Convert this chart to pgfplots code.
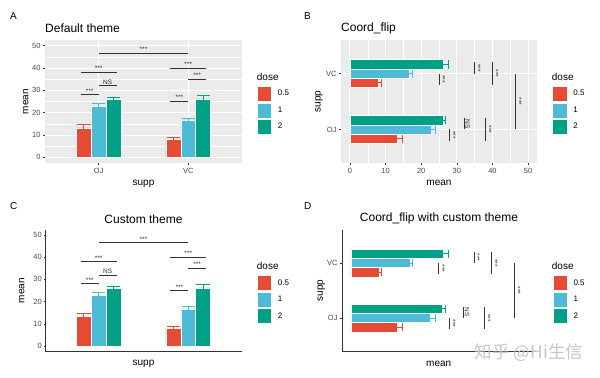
\documentclass[border=0pt]{standalone}
\usepackage{fontspec}
\setmainfont{Liberation Sans}
\newfontfamily\cjk{Noto Sans CJK SC}
\usepackage{pgfplots}
\pgfplotsset{compat=1.18}
\definecolor{npgred}{HTML}{E64B35}
\definecolor{npgblue}{HTML}{4DBBD5}
\definecolor{npggreen}{HTML}{00A087}
\definecolor{ggbg}{HTML}{EBEBEB}
\definecolor{gg30}{HTML}{4D4D4D}
\definecolor{gg20}{HTML}{333333}
\newcommand{\fs}[1]{\fontsize{#1bp}{#1bp}\selectfont}
\tikzset{brk/.style={gg20, line width=0.8bp}}

\pgfplotsset{
  base/.style={
    scale only axis, anchor=south west,
    /pgf/number format/assume math mode=true,
    tick label style={font=\fs{7.5}, text=gg30},
    xticklabel style={inner sep=2.5bp},
    yticklabel style={inner sep=1.8bp},
    label style={font=\fs{10}, text=black},
    tick align=outside, major tick length=2.5bp, minor tick length=0pt,
    tick style={gg20, line width=0.5bp},
    legend style={draw=none, fill=none, inner sep=0pt, row sep=1bp, column sep=6bp,
      font=\fs{8}, nodes={inner sep=0pt}, anchor=north west},
    legend cell align=left,
    clip=false,
  },
  mylegend/.style={legend image code/.code={\fill[##1] (0bp,-7.5bp) rectangle (14.5bp,7.5bp);}},
  ggbox/.style={axis background/.style={fill=ggbg}, axis line style={draw=none},
    major grid style={white, line width=0.9bp}, minor grid style={white, line width=0.45bp},
    xtick pos=left, ytick pos=left},
  classic/.style={axis lines=left, axis line style={-, gg20, line width=0.8bp}},
  eby/.style 2 args={error bars/y dir=both, error bars/y explicit,
    error bars/error mark=|,
    error bars/error bar style={#1, line width=1bp},
    error bars/error mark options={#1, line width=1bp, mark size=#2}},
  ebx/.style 2 args={error bars/x dir=both, error bars/x explicit,
    error bars/error mark=|,
    error bars/error bar style={#1, line width=1bp},
    error bars/error mark options={#1, line width=1bp, mark size=#2}},
}
% horizontal bracket: x1, x2, xmid, y, label
\newcommand{\hb}[5]{\draw[brk] (axis cs:#1,#4) -- (axis cs:#2,#4);
  \node[anchor=base, inner sep=0pt, font=\fs{6.5}, text=gg20] at ([yshift=1.5bp]axis cs:#3,#4) {#5};}
% vertical bracket: y1, y2, ymid, x, label
\newcommand{\vb}[5]{\draw[brk] (axis cs:#4,#1) -- (axis cs:#4,#2);
  \node[anchor=base, rotate=-90, inner sep=0pt, font=\fs{6.5}, text=gg20] at ([xshift=1.5bp]axis cs:#4,#3) {#5};}

\begin{document}
\begin{tikzpicture}
\path[use as bounding box, fill=white] (0,0) rectangle (600bp,378bp);

% ---------------- Panel A ----------------
\node[anchor=base west, inner sep=0pt, font=\fs{10}] at (10bp,358bp) {A};
\node[anchor=base west, inner sep=0pt, font=\fs{12}] at (45bp,345.5bp) {Default theme};
\begin{axis}[base, ggbox, at={(45bp,215bp)}, width=197bp, height=123bp,
  xmin=0.4, xmax=2.6, ymin=-2.5, ymax=52.5,
  xtick={1,2}, xticklabels={OJ,VC}, ytick={0,10,20,30,40,50}, minor ytick={5,15,25,35,45},
  xmajorgrids, ymajorgrids, yminorgrids,
  ybar, bar width=0.1667,
  xlabel={supp}, ylabel={mean},
  xlabel style={at={(axis description cs:0.5,-0.183)}, anchor=base},
  ylabel style={at={(axis description cs:-0.0975,0.5)}, anchor=center},
  legend style={at={(axis description cs:1.0746,0.626)}},
  mylegend]
\addplot[fill=npgred, draw=white, line width=0.5bp, bar shift=-0.1667, eby={npgred}{6.7bp}]
  coordinates {(1,13.23) +- (0,1.41) (2,7.98) +- (0,0.87)};
\addplot[fill=npgblue, draw=white, line width=0.5bp, bar shift=0, eby={npgblue}{6.7bp}]
  coordinates {(1,22.70) +- (0,1.24) (2,16.77) +- (0,0.80)};
\addplot[fill=npggreen, draw=white, line width=0.5bp, bar shift=0.1667, eby={npggreen}{6.7bp}]
  coordinates {(1,26.06) +- (0,0.84) (2,26.14) +- (0,1.52)};
\legend{0.5,1,2}
\hb{0.8}{1.0}{0.9}{28}{***}
\hb{1.0}{1.2}{1.1}{32}{NS}
\hb{0.8}{1.2}{1.0}{38}{***}
\hb{1.0}{2.0}{1.5}{46.5}{***}
\hb{1.8}{2.0}{1.9}{25}{***}
\hb{2.0}{2.2}{2.1}{35}{***}
\hb{1.8}{2.2}{2.0}{40}{***}
\end{axis}
\node[anchor=base west, inner sep=0pt, font=\fs{10}] at (256.7bp,297bp) {dose};

% ---------------- Panel B ----------------
\node[anchor=base west, inner sep=0pt, font=\fs{10}] at (304bp,358bp) {B};
\node[anchor=base west, inner sep=0pt, font=\fs{12}] at (341bp,346bp) {Coord\_flip};
\begin{axis}[base, ggbox, at={(341bp,215bp)}, width=196bp, height=123bp,
  xmin=-2.5, xmax=52.5, ymin=0.4, ymax=2.6,
  ytick={1,2}, yticklabels={OJ,VC}, xtick={0,10,20,30,40,50}, minor xtick={5,15,25,35,45},
  xmajorgrids, xminorgrids, ymajorgrids,
  xbar, bar width=0.1667,
  xlabel={mean}, ylabel={supp},
  xlabel style={at={(axis description cs:0.5,-0.183)}, anchor=base},
  ylabel style={at={(axis description cs:-0.112,0.5)}, anchor=center},
  legend style={at={(axis description cs:1.078,0.626)}},
  mylegend]
\addplot[fill=npgred, draw=white, line width=0.5bp, bar shift=-0.1667, ebx={npgred}{4.3bp}]
  coordinates {(13.23,1) +- (1.41,0) (7.98,2) +- (0.87,0)};
\addplot[fill=npgblue, draw=white, line width=0.5bp, bar shift=0, ebx={npgblue}{4.3bp}]
  coordinates {(22.70,1) +- (1.24,0) (16.77,2) +- (0.80,0)};
\addplot[fill=npggreen, draw=white, line width=0.5bp, bar shift=0.1667, ebx={npggreen}{4.3bp}]
  coordinates {(26.06,1) +- (0.84,0) (26.14,2) +- (1.52,0)};
\legend{0.5,1,2}
\vb{0.8}{1.0}{0.9}{28}{***}
\vb{1.0}{1.2}{1.1}{32}{NS}
\vb{0.8}{1.2}{1.0}{38}{***}
\vb{1.0}{2.0}{1.5}{46.5}{***}
\vb{1.8}{2.0}{1.9}{25}{***}
\vb{2.0}{2.2}{2.1}{35}{***}
\vb{1.8}{2.2}{2.0}{40}{***}
\end{axis}
\node[anchor=base west, inner sep=0pt, font=\fs{10}] at (551.7bp,297bp) {dose};

% ---------------- Panel C ----------------
\node[anchor=base west, inner sep=0pt, font=\fs{10}] at (10bp,168.7bp) {C};
\node[anchor=base, inner sep=0pt, font=\fs{12}] at (143.5bp,154.7bp) {Custom theme};
\begin{axis}[base, classic, at={(45bp,26.5bp)}, width=197bp, height=122bp,
  xmin=0.4, xmax=2.6, ymin=-2.5, ymax=52.5,
  xtick=\empty, ytick={0,10,20,30,40,50},
  ybar, bar width=0.1667,
  xlabel={supp}, ylabel={mean},
  xlabel style={at={(axis description cs:0.5,-0.112)}, anchor=base},
  ylabel style={at={(axis description cs:-0.118,0.5)}, anchor=center},
  legend style={at={(axis description cs:1.0746,0.627)}},
  mylegend]
\addplot[fill=npgred, draw=white, line width=0.5bp, bar shift=-0.1667, eby={npgred}{6.7bp}]
  coordinates {(1,13.23) +- (0,1.41) (2,7.98) +- (0,0.87)};
\addplot[fill=npgblue, draw=white, line width=0.5bp, bar shift=0, eby={npgblue}{6.7bp}]
  coordinates {(1,22.70) +- (0,1.24) (2,16.77) +- (0,0.80)};
\addplot[fill=npggreen, draw=white, line width=0.5bp, bar shift=0.1667, eby={npggreen}{6.7bp}]
  coordinates {(1,26.06) +- (0,0.84) (2,26.14) +- (0,1.52)};
\legend{0.5,1,2}
\hb{0.8}{1.0}{0.9}{28}{***}
\hb{1.0}{1.2}{1.1}{32}{NS}
\hb{0.8}{1.2}{1.0}{38}{***}
\hb{1.0}{2.0}{1.5}{46.5}{***}
\hb{1.8}{2.0}{1.9}{25}{***}
\hb{2.0}{2.2}{2.1}{35}{***}
\hb{1.8}{2.2}{2.0}{40}{***}
\end{axis}
\node[anchor=base west, inner sep=0pt, font=\fs{10}] at (256.7bp,108bp) {dose};

% ---------------- Panel D ----------------
\node[anchor=base west, inner sep=0pt, font=\fs{10}] at (304bp,168.7bp) {D};
\node[anchor=base, inner sep=0pt, font=\fs{12}] at (439bp,156bp) {Coord\_flip with custom theme};
\begin{axis}[base, classic, at={(342bp,27bp)}, width=193.5bp, height=121bp,
  xmin=-2.5, xmax=52.5, ymin=0.4, ymax=2.6,
  ytick={1,2}, yticklabels={OJ,VC}, xtick=\empty,
  xbar, bar width=0.1667,
  xlabel={mean}, ylabel={supp},
  xlabel style={at={(axis description cs:0.5,-0.124)}, anchor=base},
  ylabel style={at={(axis description cs:-0.108,0.5)}, anchor=center},
  legend style={at={(axis description cs:1.087,0.628)}},
  mylegend]
\addplot[fill=npgred, draw=white, line width=0.5bp, bar shift=-0.1667, ebx={npgred}{4.2bp}]
  coordinates {(13.23,1) +- (1.41,0) (7.98,2) +- (0.87,0)};
\addplot[fill=npgblue, draw=white, line width=0.5bp, bar shift=0, ebx={npgblue}{4.2bp}]
  coordinates {(22.70,1) +- (1.24,0) (16.77,2) +- (0.80,0)};
\addplot[fill=npggreen, draw=white, line width=0.5bp, bar shift=0.1667, ebx={npggreen}{4.2bp}]
  coordinates {(26.06,1) +- (0.84,0) (26.14,2) +- (1.52,0)};
\legend{0.5,1,2}
\vb{0.8}{1.0}{0.9}{28}{***}
\vb{1.0}{1.2}{1.1}{32}{NS}
\vb{0.8}{1.2}{1.0}{38}{***}
\vb{1.0}{2.0}{1.5}{46.5}{***}
\vb{1.8}{2.0}{1.9}{25}{***}
\vb{2.0}{2.2}{2.1}{35}{***}
\vb{1.8}{2.2}{2.0}{40}{***}
\end{axis}
\node[anchor=base west, inner sep=0pt, font=\fs{10}] at (551.7bp,108bp) {dose};

% watermark
\node[anchor=center, inner sep=0pt, font=\cjk\fs{17.5}, text=gray!45] at (529bp,25bp) {知乎 @Hi生信};
\end{tikzpicture}
\end{document}
